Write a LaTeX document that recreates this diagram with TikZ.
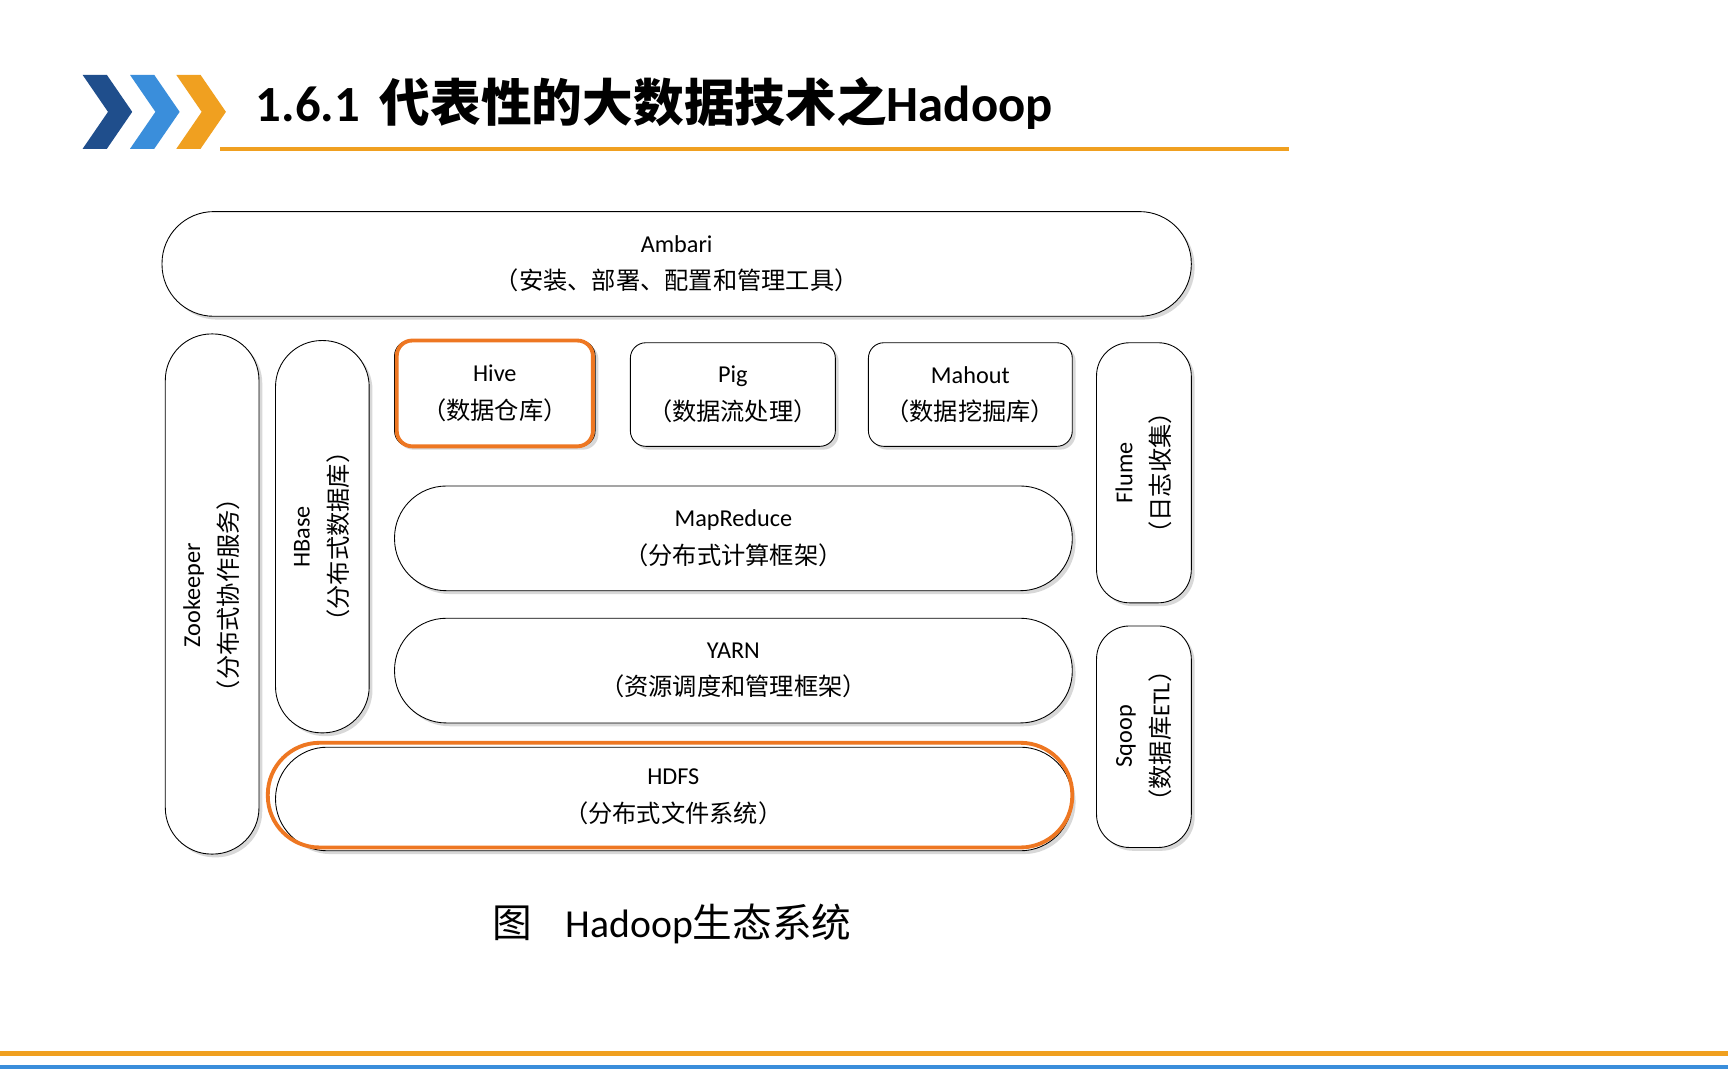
\documentclass[tikz,border=0pt]{standalone}
\usepackage{fontspec}
\setmainfont{Carlito}
\newfontfamily\cjk{Noto Sans CJK SC}
\usetikzlibrary{shadows}
\definecolor{org}{HTML}{EE7722}
\definecolor{tline}{HTML}{F0A020}
\definecolor{blu}{HTML}{3A8EDB}
\definecolor{dblu}{HTML}{1F4E8C}
\begin{document}
\begin{tikzpicture}[x=1pt,y=-1pt,
 box/.style={draw=black,fill=white,line width=0.8pt,align=center,font=\fontsize{22}{30}\selectfont,inner sep=0pt,
   drop shadow={shadow xshift=3pt,shadow yshift=-3pt,fill=black!25,opacity=0.6}},
 ]
\useasboundingbox (0,0) rectangle (1568,980);
\fill[white] (0,0) rectangle (1568,980);
% chevrons
\foreach \x/\c in {75/dblu,118/blu,160/tline}
  \fill[\c] (\x,68) -- (\x+22,68) -- (\x+45,101.5) -- (\x+22,135) -- (\x,135) -- (\x+23,101.5) -- cycle;
\node[anchor=base west,inner sep=0pt,font=\fontsize{46}{50}\selectfont\bfseries] (title) at (232,110) {1.6.1\hspace{18pt}{\cjk\bfseries 代表性的大数据技术之}Hadoop};
\draw[tline,line width=3.5pt] (200,135) -- (1170,135);
% boxes
\newcommand\bx[6]{\node[box,rounded corners=#6pt,minimum width=#3pt-#1pt,minimum height=#4pt-#2pt] (#5) at ({(#1+#3)/2},{(#2+#4)/2}) {};}
\bx{147}{192}{1081}{287}{amb}{47}
\bx{150}{303}{235}{775}{zk}{42}
\bx{250}{309}{335}{665}{hb}{42}
\bx{572}{311}{758}{405}{pig}{14}
\bx{788}{311}{973}{405}{mah}{14}
\bx{358}{309}{540}{405}{hive}{14}
\bx{358}{441}{973}{536}{mr}{47}
\bx{358}{561}{973}{656}{yarn}{47}
\bx{250}{678}{973}{772}{hdfs}{47}
\bx{995}{311}{1081}{547}{fl}{30}
\bx{995}{568}{1081}{769}{sq}{30}
\draw[org,line width=3.5pt,rounded corners=14pt] (360,309) rectangle (538,405);
\draw[org,line width=3.5pt,rounded corners=47pt] (243,674) rectangle (973,769);
% texts
\tikzset{lbl/.style={align=center,font=\fontsize{22}{34}\selectfont,inner sep=0pt}}
\node[lbl] (tamb) at (amb) {Ambari\\{\cjk （安装、部署、配置和管理工具）}};
\node[lbl] (thive) at (449,357) {Hive\\{\cjk （数据仓库）}};
\node[lbl] (tpig) at (pig) {Pig\\{\cjk （数据流处理）}};
\node[lbl] (tmah) at (mah) {Mahout\\{\cjk （数据挖掘库）}};
\node[lbl] (tmr) at (mr) {MapReduce\\{\cjk （分布式计算框架）}};
\node[lbl] (tyarn) at (yarn) {YARN\\{\cjk （资源调度和管理框架）}};
\node[lbl] (thdfs) at (611,723) {HDFS\\{\cjk （分布式文件系统）}};
\node[lbl,rotate=90] (tzk) at (192,540) {Zookeeper\\{\cjk （分布式协作服务）}};
\node[lbl,rotate=90] (thb) at (292,487) {HBase\\{\cjk （分布式数据库）}};
\node[lbl,rotate=90] (tfl) at (1038,429) {Flume\\{\cjk （日志收集）}};
\node[lbl,rotate=90] (tsq) at (1038,668) {Sqoop\\{\cjk （数据库}ETL{\cjk ）}};
\node[font=\fontsize{36}{40}\selectfont,inner sep=0pt] (cap) at (610,838) {{\cjk 图}\hspace{30pt}Hadoop{\cjk 生态系统}};
% bottom lines
\draw[tline,line width=4pt] (0,956) -- (1568,956);
\draw[blu,line width=4pt] (0,968) -- (1568,968);
\end{tikzpicture}
\end{document}
